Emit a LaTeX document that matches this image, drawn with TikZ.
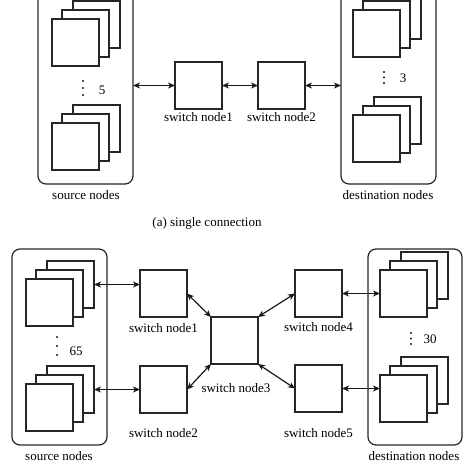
\documentclass[tikz,border=0pt]{standalone}
\usepackage{fontspec}
\setmainfont{Liberation Serif}
\usetikzlibrary{arrows.meta}
\newcommand{\nstack}[3]{%
  \node[sq] (#1b) at (#2+21,#3-18) {};
  \node[sq] (#1m) at (#2+10,#3-9) {};
  \node[sq] (#1f) at (#2,#3) {};}
\begin{document}
\begin{tikzpicture}[x=1pt,y=-1pt,
  ln/.style={draw=black!85, line width=1.2pt},
  sq/.style={ln, fill=white, minimum width=47pt, minimum height=47pt, inner sep=0pt, outer sep=0pt, anchor=north west},
  cont/.style={ln, rounded corners=8pt, inner sep=0pt, outer sep=0pt, anchor=north west},
  arr/.style={draw=black!90, line width=1.2pt, {Stealth[length=7pt,width=6pt,inset=2pt]}-{Stealth[length=7pt,width=6pt,inset=2pt]}},
  lbl/.style={font=\fontsize{13}{15}\selectfont, inner sep=0pt, anchor=base, text=black},
  dotf/.style={fill=black!90}]
\useasboundingbox (0,0) rectangle (474,474);
\clip (0,0) rectangle (474,474);
% ---------- (a) single connection ----------
\node[cont, minimum width=95pt, minimum height=204pt] (srcA) at (38,-20) {};
\node[cont, minimum width=95pt, minimum height=204pt] (dstA) at (341,-20) {};
\nstack{sAa}{52}{19}
\nstack{sAc}{52}{123}
\nstack{dAa}{353}{10}
\nstack{dAc}{353}{115}
\node[sq] (aw1) at (175,62) {};
\node[sq] (aw2) at (258,62) {};
\draw[arr] (srcA.east |- aw1.west) -- (aw1.west);
\draw[arr] (aw1.east) -- (aw2.west);
\draw[arr] (aw2.east) -- (dstA.west |- aw2.east);
\foreach \yy in {81,88,95} \fill[dotf] (83,\yy) circle (1.2pt);
\foreach \yy in {72,77.5,83} \fill[dotf] (384,\yy) circle (1.2pt);
\node[lbl] (n5) at (102,94) {5};
\node[lbl] (n3) at (403,82) {3};
\node[lbl] (law1) at (198.5,121) {switch node1};
\node[lbl] (law2) at (281.5,121) {switch node2};
\node[lbl] (lsrcA) at (86,199) {source nodes};
\node[lbl] (ldstA) at (388,199) {destination nodes};
\node[lbl] (capA) at (207,226) {(a) single connection};
% ---------- (b) ----------
\node[cont, minimum width=95pt, minimum height=196pt] (srcB) at (12,249) {};
\node[cont, minimum width=94pt, minimum height=196pt] (dstB) at (368,249) {};
\nstack{sBa}{26}{279}
\nstack{sBc}{26}{384}
\nstack{dBa}{380}{270}
\nstack{dBc}{380}{375}
\node[sq] (bw1) at (140,270) {};
\node[sq] (bw2) at (140,366) {};
\node[sq] (bw3) at (211,317) {};
\node[sq] (bw4) at (295,270) {};
\node[sq] (bw5) at (295,365) {};
\draw[arr] (sBab.east) -- (bw1.west |- sBab.east);
\draw[arr] (sBcb.east) -- (bw2.west |- sBcb.east);
\draw[arr] (bw4.east) -- (dBaf.west |- bw4.east);
\draw[arr] (bw5.east) -- (dBcf.west |- bw5.east);
\draw[arr] (bw3.north west) -- (bw1.east);
\draw[arr] (bw3.south west) -- (bw2.east);
\draw[arr] (bw3.north east) -- (bw4.west);
\draw[arr] (bw3.south east) -- (bw5.west);
\foreach \yy in {337,346,355} \fill[dotf] (57,\yy) circle (1.2pt);
\foreach \yy in {333,338.5,344} \fill[dotf] (411,\yy) circle (1.2pt);
\node[lbl] (n65) at (76,355) {65};
\node[lbl] (n30) at (430,343) {30};
\node[lbl] (lbw1) at (163.5,332) {switch node1};
\node[lbl] (lbw2) at (163.5,437) {switch node2};
\node[lbl] (lbw3) at (236,392) {switch node3};
\node[lbl] (lbw4) at (318.5,331) {switch node4};
\node[lbl] (lbw5) at (318.5,437) {switch node5};
\node[lbl] (lsrcB) at (59,460) {source nodes};
\node[lbl] (ldstB) at (414,460) {destination nodes};
\end{tikzpicture}
\end{document}
